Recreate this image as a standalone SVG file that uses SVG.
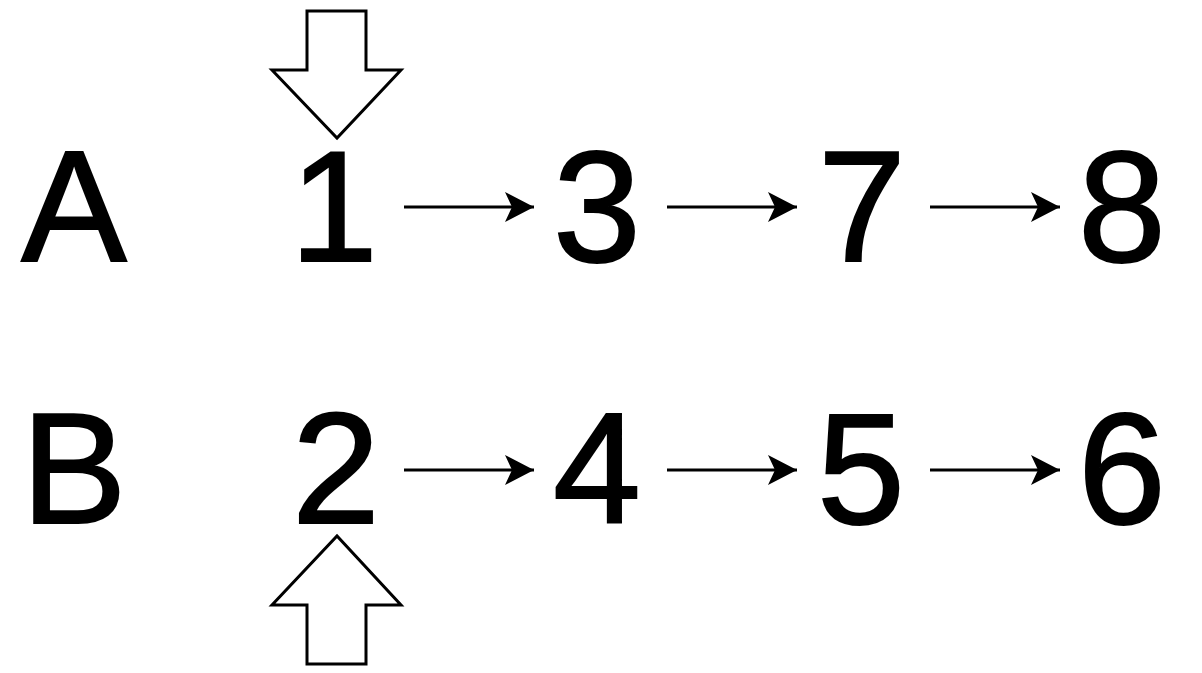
<svg xmlns="http://www.w3.org/2000/svg" width="1202" height="673" viewBox="0 0 1202 673">
<style>
.t{font-family:"Liberation Sans",Arial,sans-serif;font-size:158px;fill:#000;stroke:#000;stroke-width:2;text-anchor:middle}
.big{fill:#fff;stroke:#000;stroke-width:3;stroke-linejoin:miter}
.ln{stroke:#000;stroke-width:3;fill:none}
</style>
<defs>
<marker id="ah" markerUnits="userSpaceOnUse" markerWidth="32" markerHeight="32" refX="29" refY="15" orient="auto" viewBox="0 0 32 32">
<path d="M0,0 L29,15 L0,30 L7,15 Z" fill="#000"/>
</marker>
</defs>
<rect width="1202" height="673" fill="#fff"/>
<g id="label-A"><text class="t" x="74" y="261">A</text></g>
<g id="label-B"><text class="t" x="74" y="523">B</text></g>
<g id="n1"><text class="t" x="334" y="261">1</text></g>
<g id="n3"><text class="t" x="597" y="261">3</text></g>
<g id="n7"><text class="t" x="862" y="261">7</text></g>
<g id="n8"><text class="t" x="1122" y="261">8</text></g>
<g id="n2"><text class="t" x="336" y="523">2</text></g>
<g id="n4"><text class="t" x="597" y="523">4</text></g>
<g id="n5"><text class="t" x="861" y="523">5</text></g>
<g id="n6"><text class="t" x="1122" y="523">6</text></g>
<g id="arrow-down"><path class="big" d="M307,11 H366 V70 H401 L337,138 L272,70 H307 Z"/></g>
<g id="arrow-up"><path class="big" d="M307,664 H366 V605 H401 L337,536 L272,605 H307 Z"/></g>
<g id="connectors">
<line class="ln" x1="404" y1="207" x2="534" y2="207" marker-end="url(#ah)"/>
<line class="ln" x1="667" y1="207" x2="797" y2="207" marker-end="url(#ah)"/>
<line class="ln" x1="930" y1="207" x2="1060" y2="207" marker-end="url(#ah)"/>
<line class="ln" x1="404" y1="470" x2="534" y2="470" marker-end="url(#ah)"/>
<line class="ln" x1="667" y1="470" x2="797" y2="470" marker-end="url(#ah)"/>
<line class="ln" x1="930" y1="470" x2="1060" y2="470" marker-end="url(#ah)"/>
</g>
</svg>
